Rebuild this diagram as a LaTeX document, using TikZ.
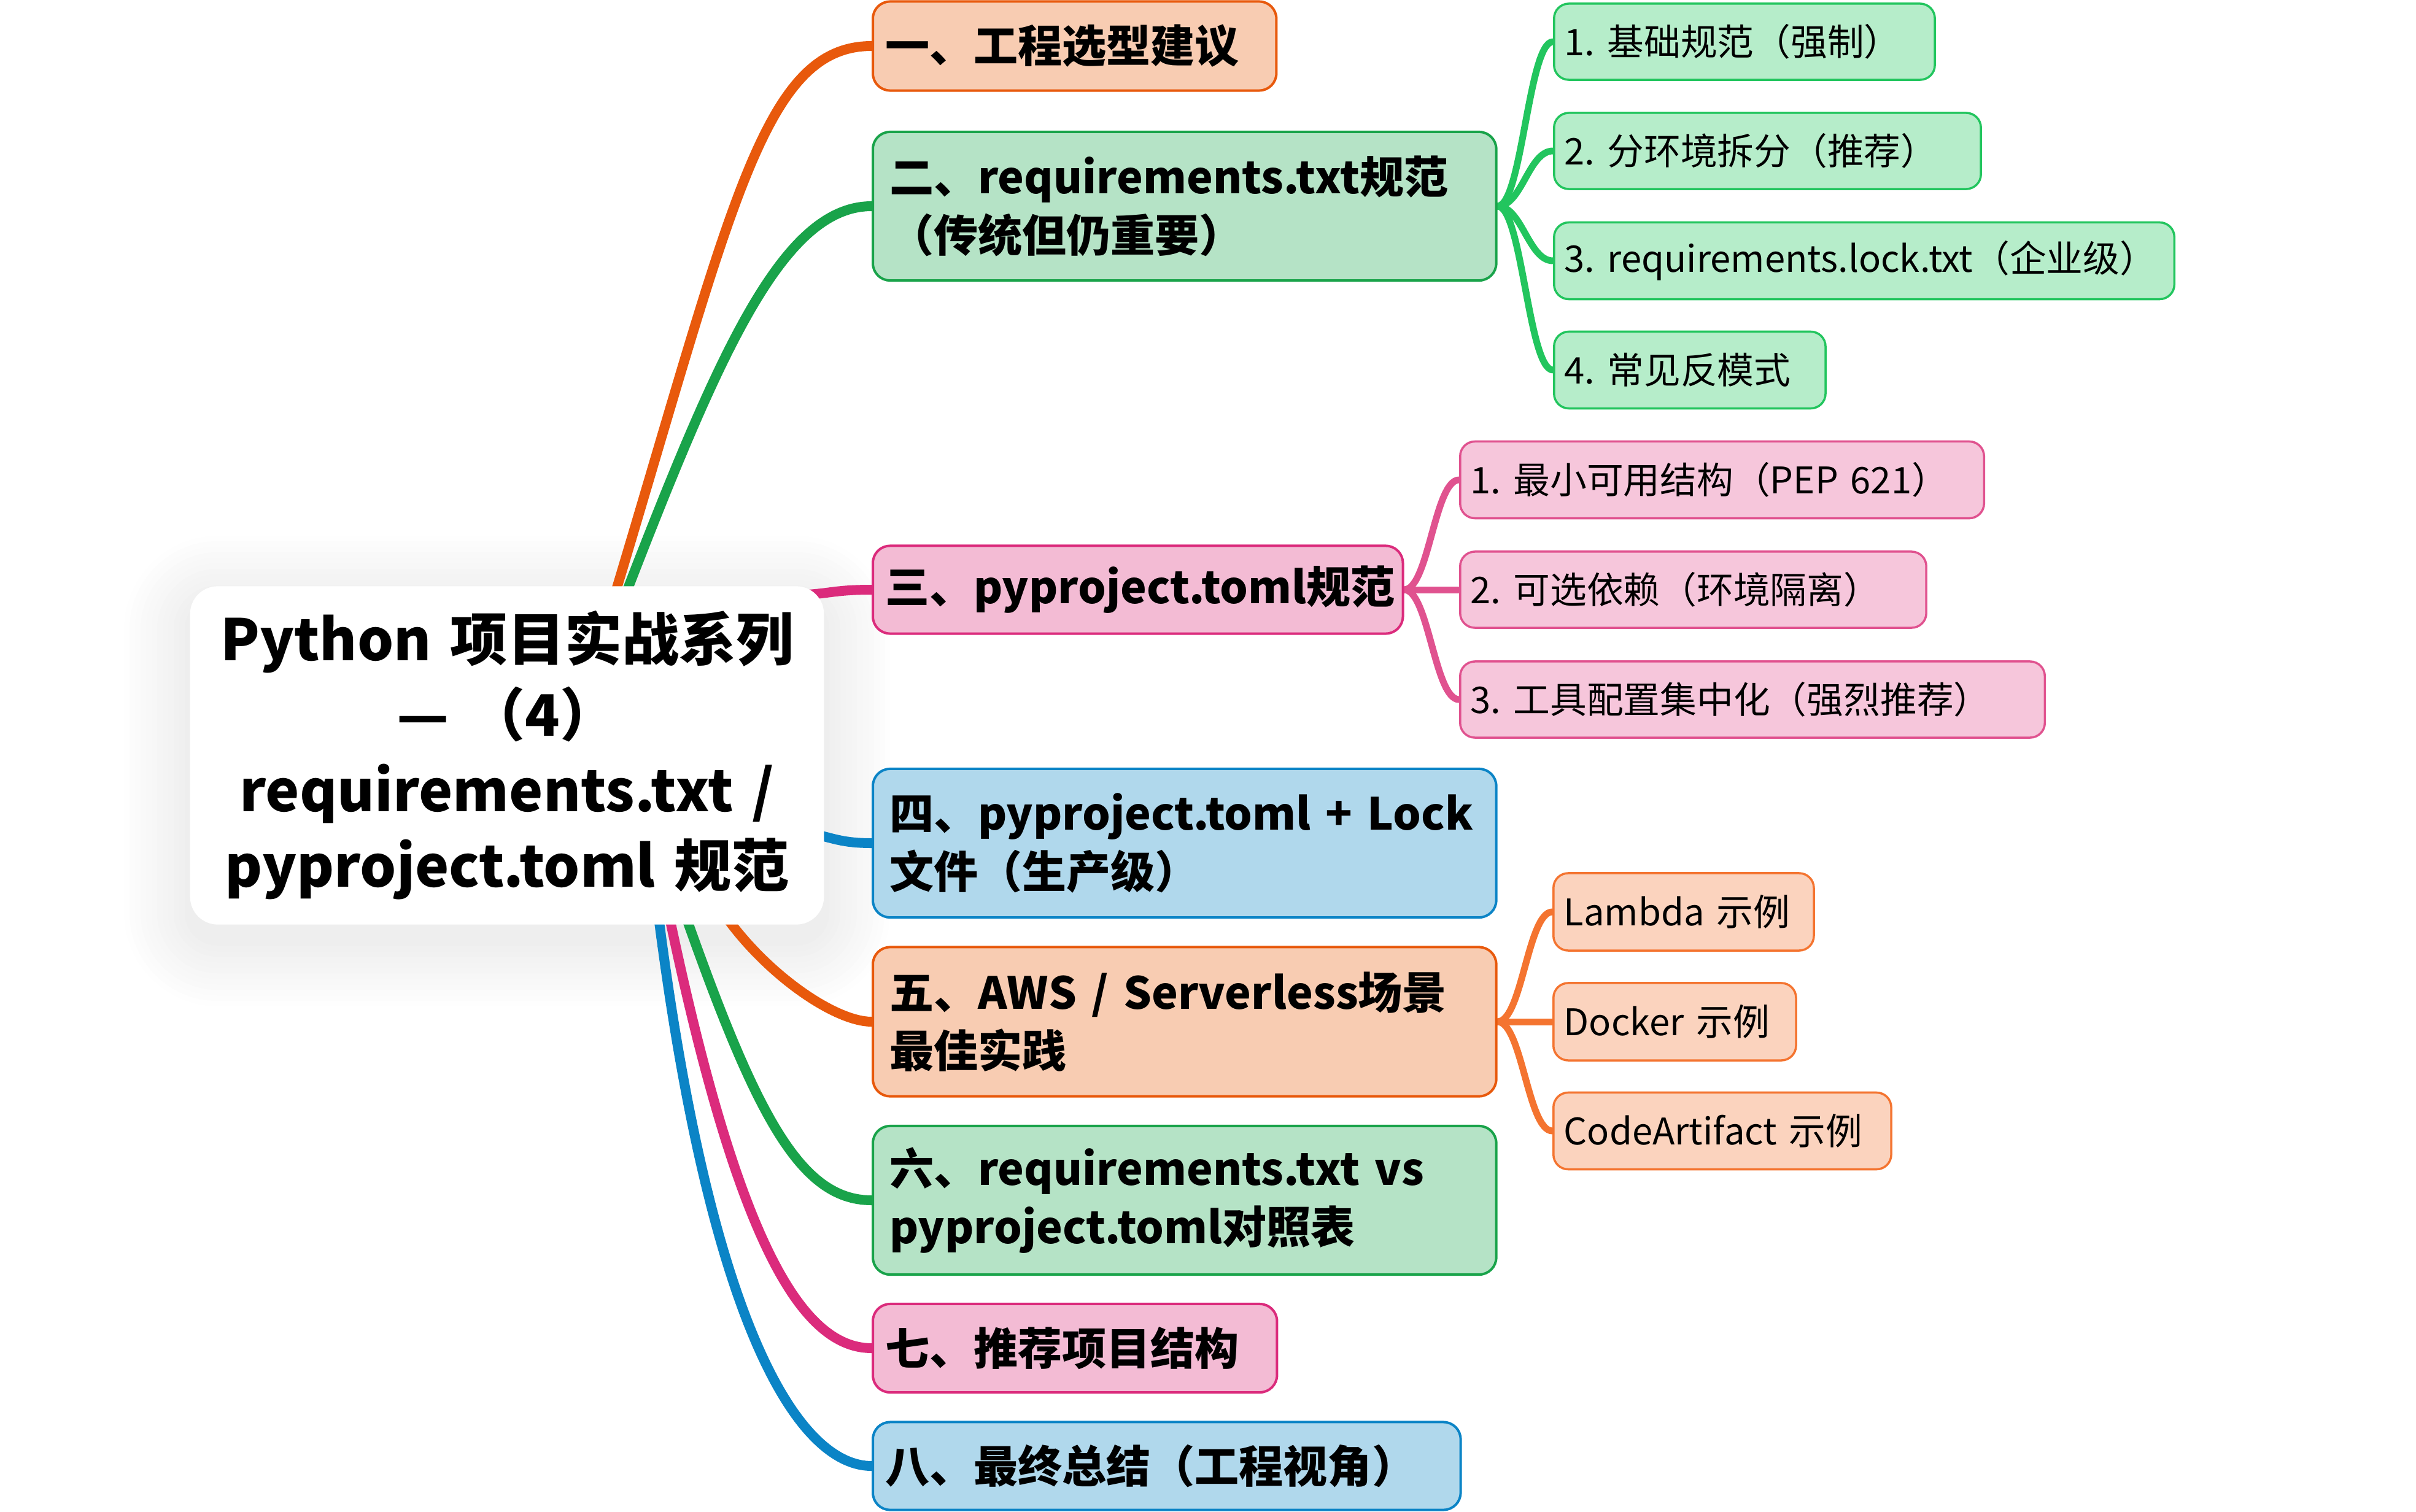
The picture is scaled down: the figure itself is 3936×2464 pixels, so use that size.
\documentclass[tikz,border=0pt]{standalone}
\usepackage{fontspec}
\setmainfont{Noto Sans CJK SC}
\frenchspacing
\definecolor{orangeLine}{RGB}{232,89,12}
\definecolor{orangeFill}{RGB}{248,204,178}
\definecolor{orangeSub}{RGB}{244,116,48}
\definecolor{orangeSubFill}{RGB}{251,211,190}
\definecolor{greenLine}{RGB}{25,163,74}
\definecolor{greenFill}{RGB}{181,227,198}
\definecolor{greenSub}{RGB}{34,197,94}
\definecolor{greenSubFill}{RGB}{182,237,202}
\definecolor{pinkLine}{RGB}{219,43,124}
\definecolor{pinkFill}{RGB}{243,187,212}
\definecolor{pinkSub}{RGB}{224,82,143}
\definecolor{pinkSubFill}{RGB}{246,198,219}
\definecolor{blueLine}{RGB}{11,132,198}
\definecolor{blueFill}{RGB}{176,216,236}
\pgfdeclarelayer{bg}
\pgfdeclarelayer{links}
\pgfsetlayers{bg,links,main}
\tikzset{
  rootbox/.style={fill=white, rounded corners=0.45cm, align=center, text width=9.8cm,
    minimum width=10.32cm, minimum height=5.51cm, inner sep=0pt,
    font=\fontsize{26.5pt}{35pt}\selectfont\bfseries},
  topic/.style={draw, rounded corners=0.28cm, line width=0.04cm, anchor=west, align=left,
    inner xsep=0.27cm, inner ysep=0pt, font=\fontsize{20.5pt}{27pt}\selectfont\bfseries},
  subtopic/.style={draw, rounded corners=0.24cm, line width=0.035cm, anchor=west, align=left,
    inner xsep=0.17cm, inner ysep=0pt, font=\fontsize{17pt}{22pt}\selectfont, oneline},
  oneline/.style={execute at begin node=\hbox\bgroup, execute at end node=\egroup},
  orange1/.style={fill=orangeFill, draw=orangeLine},
  green1/.style={fill=greenFill, draw=greenLine},
  pink1/.style={fill=pinkFill, draw=pinkLine},
  blue1/.style={fill=blueFill, draw=blueLine},
  orange2/.style={fill=orangeSubFill, draw=orangeSub},
  green2/.style={fill=greenSubFill, draw=greenSub},
  pink2/.style={fill=pinkSubFill, draw=pinkSub},
  branch/.style={line width=0.16cm, line cap=round},
  twig/.style={line width=0.11cm, line cap=round}
}

\begin{document}
\begin{tikzpicture}[x=0.01cm,y=-0.01cm]
\useasboundingbox (0,0) rectangle (3936,2464);

\node[rootbox] (root) at (826,1231) {Python 项目实战系列\\— （4）\\requirements.txt /\\pyproject.toml 规范};

\node[topic, orange1, oneline, inner xsep=0.2cm, text width=6.17cm, minimum height=1.45cm] (n1) at (1420,75) {一、工程选型建议};
\node[topic, green1, text width=9.61cm, minimum height=2.42cm] (n2) at (1420,336) {二、requirements.txt规范\\（传统但仍重要）};
\node[topic, pink1, oneline, inner xsep=0.2cm, text width=8.23cm, minimum height=1.43cm] (n3) at (1420,961) {三、pyproject.toml规范};
\node[topic, blue1, text width=9.61cm, minimum height=2.42cm] (n4) at (1420,1374) {四、pyproject.toml + Lock\\文件（生产级）};
\node[topic, orange1, text width=9.61cm, minimum height=2.43cm] (n5) at (1420,1665) {五、AWS / Serverless场景\\最佳实践};
\node[topic, green1, text width=9.61cm, minimum height=2.42cm] (n6) at (1420,1956) {六、requirements.txt vs\\pyproject.toml对照表};
\node[topic, pink1, oneline, inner xsep=0.2cm, text width=6.18cm, minimum height=1.44cm] (n7) at (1420,2197) {七、推荐项目结构};
\node[topic, blue1, oneline, inner xsep=0.2cm, text width=9.17cm, minimum height=1.43cm] (n8) at (1420,2389) {八、最终总结（工程视角）};

\node[subtopic, green2, text width=5.86cm, minimum height=1.24cm] (g1) at (2530,68) {1. 基础规范（强制）};
\node[subtopic, green2, text width=6.61cm, minimum height=1.24cm] (g2) at (2530,246) {2. 分环境拆分（推荐）};
\node[subtopic, green2, text width=9.76cm, minimum height=1.25cm] (g3) at (2530,425) {3. requirements.lock.txt（企业级）};
\node[subtopic, green2, text width=4.08cm, minimum height=1.25cm] (g4) at (2530,603) {4. 常见反模式};

\node[subtopic, pink2, text width=8.19cm, minimum height=1.25cm] (p1) at (2377,782) {1. 最小可用结构（PEP 621）};
\node[subtopic, pink2, text width=7.25cm, minimum height=1.24cm] (p2) at (2377,961) {2. 可选依赖（环境隔离）};
\node[subtopic, pink2, text width=9.18cm, minimum height=1.24cm] (p3) at (2377,1140) {3. 工具配置集中化（强烈推荐）};

\node[subtopic, orange2, text width=3.90cm, minimum height=1.26cm] (o1) at (2529,1486) {Lambda 示例};
\node[subtopic, orange2, text width=3.61cm, minimum height=1.26cm] (o2) at (2529,1665) {Docker 示例};
\node[subtopic, orange2, text width=5.16cm, minimum height=1.25cm] (o3) at (2529,1843) {CodeArtifact 示例};

\coordinate (s1) at (988,1014);
\coordinate (s2) at (1002,1013);
\coordinate (s3) at (1280,970);
\coordinate (s4) at (1280,1356);
\coordinate (s5) at (1150,1440);
\coordinate (s6) at (1102,1450);
\coordinate (s7) at (1081,1448);
\coordinate (s8) at (1067,1447);

\begin{pgfonlayer}{links}
\draw[branch, orangeLine] (s1) .. controls +(203,-670) and +(-180,0) .. (n1.west);
\draw[branch, greenLine] (s2) .. controls +(162,-420) and +(-150,0) .. (n2.west);
\draw[branch, pinkLine] (s3) .. controls +(70,0) and +(-70,0) .. (n3.west);
\draw[branch, blueLine] (s4) .. controls +(70,0) and +(-70,0) .. (n4.west);
\draw[branch, orangeLine] (s5) .. controls +(60,120) and +(-70,0) .. (n5.west);
\draw[branch, greenLine] (s6) .. controls +(125,359) and +(-120,0) .. (n6.west);
\draw[branch, pinkLine] (s7) .. controls +(110,539) and +(-125,0) .. (n7.west);
\draw[branch, blueLine] (s8) .. controls +(90,745) and +(-110,0) .. (n8.west);

\draw[twig, greenSub] (n2.east) .. controls +(40,0) and +(-40,0) .. (g1.west);
\draw[twig, greenSub] (n2.east) .. controls +(40,0) and +(-40,0) .. (g2.west);
\draw[twig, greenSub] (n2.east) .. controls +(40,0) and +(-40,0) .. (g3.west);
\draw[twig, greenSub] (n2.east) .. controls +(40,0) and +(-40,0) .. (g4.west);
\draw[twig, pinkSub] (n3.east) .. controls +(40,0) and +(-40,0) .. (p1.west);
\draw[twig, pinkSub] (n3.east) -- (p2.west);
\draw[twig, pinkSub] (n3.east) .. controls +(40,0) and +(-40,0) .. (p3.west);
\draw[twig, orangeSub] (n5.east) .. controls +(40,0) and +(-40,0) .. (o1.west);
\draw[twig, orangeSub] (n5.east) -- (o2.west);
\draw[twig, orangeSub] (n5.east) .. controls +(40,0) and +(-40,0) .. (o3.west);
\end{pgfonlayer}

\begin{pgfonlayer}{bg}
\foreach \k in {12,...,1}{
  \pgfmathsetmacro\shade{0.55*(13-\k)}
  \pgfmathsetmacro\d{9*\k}
  \fill[black!\shade!white, rounded corners=0.45cm+\d*0.01cm] ({310-\d},{981-\d}) rectangle ({1342+\d},{1532+\d});
}
\end{pgfonlayer}
\end{tikzpicture}
\end{document}
